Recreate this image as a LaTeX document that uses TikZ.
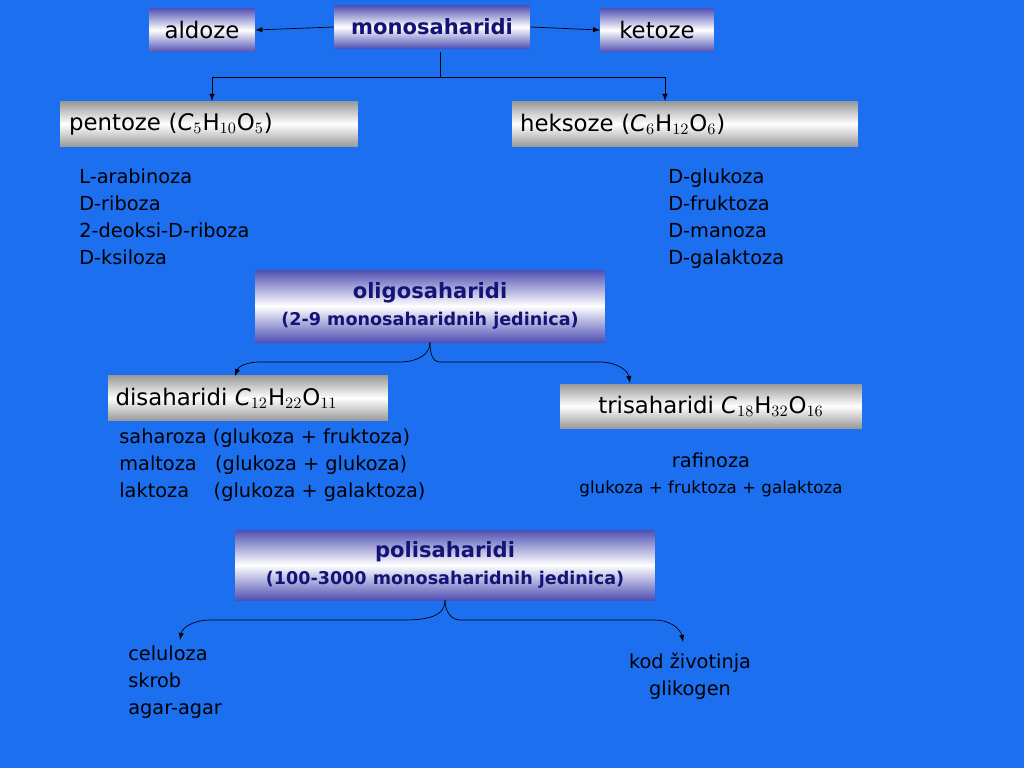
\documentclass[tikz,border=0pt]{standalone}
\usepackage{fontspec}
\setmainfont{DejaVu Sans}
\begin{document}
\begin{tikzpicture}[x=0.02cm,y=-0.02cm,
 bluebox/.style={top color=purp, bottom color=purp, middle color=white, shading angle=0, inner sep=0pt, font=\fontsize{13}{15}\selectfont},
 greybox/.style={top color=gray!80, bottom color=gray!80, middle color=white, inner sep=0pt, font=\fontsize{13}{15}\selectfont},
 lst/.style={align=left, anchor=north west, inner sep=0pt, font=\fontsize{11}{15.5}\selectfont},
 arr/.style={-latex, black, thin}]
\definecolor{bg}{RGB}{28,112,240}
\definecolor{purp}{RGB}{80,80,180}
\definecolor{navy}{RGB}{20,20,120}
\fill[bg] (0,0) rectangle (1024,768);
\useasboundingbox (0,0) rectangle (1024,768);
\node[bluebox, minimum width=2.12cm, minimum height=0.88cm] (ald) at (202,30) {aldoze};
\node[bluebox, minimum width=3.92cm, minimum height=0.86cm, text=navy, font=\bfseries\fontsize{12}{14}\selectfont] (mono) at (432,27) {monosaharidi};
\node[bluebox, minimum width=2.26cm, minimum height=0.88cm] (ket) at (657,30) {ketoze};
\node[greybox, minimum width=5.96cm, minimum height=0.9cm, text width=5.6cm, align=left] (pen) at (209,124) {pentoze (\textit{C}$_5$H$_{10}$O$_5$)};
\node[greybox, minimum width=6.92cm, minimum height=0.9cm, text width=6.6cm, align=left] (hek) at (685,124) {heksoze (\textit{C}$_6$H$_{12}$O$_6$)};
\node[lst] (pl) at (79,168) {L-arabinoza\\D-riboza\\2-deoksi-D-riboza\\D-ksiloza};
\node[lst] (hl) at (668,168) {D-glukoza\\D-fruktoza\\D-manoza\\D-galaktoza};
\node[bluebox, minimum width=6.98cm, minimum height=1.44cm, align=center, text=navy, font=\bfseries\fontsize{12}{17}\selectfont] (oli) at (430,306) {oligosaharidi\\[-2pt]{\fontsize{10}{12}\selectfont (2-9 monosaharidnih jedinica)}};
\node[greybox, minimum width=5.6cm, minimum height=0.9cm, text width=5.3cm, align=left] (dis) at (248,398) {disaharidi \textit{C}$_{12}$H$_{22}$O$_{11}$};
\node[greybox, minimum width=6.04cm, minimum height=0.88cm] (tri) at (711,406) {trisaharidi \textit{C}$_{18}$H$_{32}$O$_{16}$};
\node[lst] (dl) at (119,428) {saharoza (glukoza + fruktoza)\\maltoza\ \ \ (glukoza + glukoza)\\laktoza\ \ \ \ (glukoza + galaktoza)};
\node[align=center, inner sep=0pt, font=\fontsize{11}{14}\selectfont] (tl) at (711,475) {rafinoza\\[1pt]{\fontsize{9.5}{12}\selectfont glukoza + fruktoza + galaktoza}};
\node[bluebox, minimum width=8.38cm, minimum height=1.4cm, align=center, text=navy, font=\bfseries\fontsize{12}{17}\selectfont] (pol) at (445,565) {polisaharidi\\[-2pt]{\fontsize{10}{12}\selectfont (100-3000 monosaharidnih jedinica)}};
\node[lst] (cl) at (128,645) {celuloza\\skrob\\agar-agar};
\node[align=center, inner sep=0pt, font=\fontsize{11}{15.5}\selectfont] (gl) at (690,676) {kod životinja\\glikogen};
\draw[arr] (mono.west) -- (ald.east);
\draw[arr] (mono.east) -- (ket.west);
\draw (440,52) -- (440,77) coordinate (j);
\draw[arr] (j) -| (212,101);
\draw[arr] (j) -| (665,101);
\draw[arr] (oli.south) to[out=-90,in=0] (400,362) -- (260,362) to[out=180,in=70] (235,376);
\draw[arr] (oli.south) to[out=-90,in=180] (440,362) -- (600,362) to[out=0,in=100] (630,383);
\draw[arr] (pol.south) to[out=-90,in=0] (400,620) -- (210,620) to[out=180,in=80] (180,640);
\draw[arr] (pol.south) to[out=-90,in=180] (460,620) -- (655,620) to[out=0,in=100] (683,642);
\end{tikzpicture}
\end{document}
